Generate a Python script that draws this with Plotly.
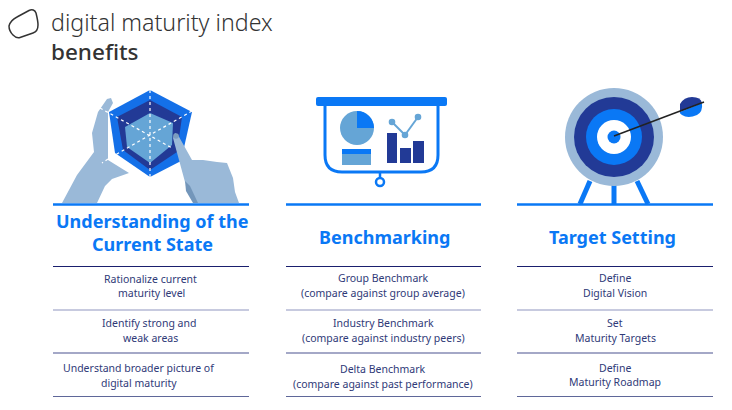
import plotly.graph_objects as go

WIDTH = 732
HEIGHT = 410

BLUE = "#0a78f5"
NAVY = "#223a96"
SKY = "#65a5d6"
PALE = "#9ab9d8"
TEXT = "#2f3a78"
FONT = "Noto Sans"

# headings and list texts, one entry per printed line
col_left = [53, 286, 517]
col_right = [249, 481, 713]

headings = [
    [("Understanding of the", 152, 221), ("Current State", 152, 244)],
    [("Benchmarking", 384, 237)],
    [("Target Setting", 612, 237)],
]

items = [
    [("Rationalize current", 150, 279), ("maturity level", 151, 293),
     ("Identify strong and", 149, 323), ("weak areas", 150, 338),
     ("Understand broader picture of", 139, 368), ("digital maturity", 139, 383)],
    [("Group Benchmark", 383, 278), ("(compare against group average)", 383, 293),
     ("Industry Benchmark", 383, 323), ("(compare against industry peers)", 383, 338),
     ("Delta Benchmark", 383, 369), ("(compare against past performance)", 383, 384)],
    [("Define", 615, 278), ("Digital Vision", 615, 293),
     ("Set", 615, 323), ("Maturity Targets", 615, 338),
     ("Define", 615, 368), ("Maturity Roadmap", 615, 382)],
]

rule_y = [266.5, 310, 353, 396.5]
rule_colors = ["#1a1f6e", "#8f96bf", "#4a5290", "#5f6799"]

# illustration outlines, in page pixels
hand_left = [(62, 203), (77, 175), (94, 152), (92, 133), (98, 112), (107, 99), (111, 98), (113, 103),
             (108, 112), (108, 160), (129, 173), (112, 179), (105, 186), (97, 203)]
hand_right = [(197, 203), (185, 182), (173, 138), (175, 133), (178, 135), (192, 160), (203, 160),
              (217, 162), (227, 163), (233, 178), (235, 192), (239, 203)]
hand_shade = [(185, 181), (190, 186), (198, 203), (193, 203), (186, 191)]
hex_outer = [(150, 90), (192, 112), (181, 161), (150, 177), (115, 153), (109, 112)]
hex_mid = [(150, 100), (182, 117), (177, 152), (150, 170), (123, 150), (117, 117)]
hex_inner = [(150, 113), (173, 123), (172, 145), (150, 163), (127, 147), (125, 127)]
hex_spokes = [((150, 90), (150, 177)), ((100, 108), (172, 148)), ((192, 111), (115, 155)),
              ((108, 159), (102, 163))]

bar_x = [(387, 397), (400, 411), (413, 424)]
bar_top = [133, 148, 141]
bar_bottom = 163
chart_line = [(392, 122), (405, 135), (418, 117)]

target_center = (614, 137)
target_rings = [(49, PALE), (40, NAVY), (28, BLUE), (17, "white"), (6.5, BLUE)]
target_legs = [((590, 181), (580, 204)), ((614, 185), (614, 204)), ((637, 181), (648, 204))]


def poly(points):
    return "M " + " L ".join(f"{x},{y}" for x, y in points) + " Z"


def fill_shape(path, color):
    return dict(type="path", path=path, fillcolor=color, line=dict(width=0))


def line_shape(p0, p1, color, width, dash="solid"):
    return dict(type="line", x0=p0[0], y0=p0[1], x1=p1[0], y1=p1[1],
                line=dict(color=color, width=width, dash=dash))


def rect_shape(x0, y0, x1, y1, color):
    return dict(type="rect", x0=x0, y0=y0, x1=x1, y1=y1, fillcolor=color, line=dict(width=0))


def circle_shape(cx, cy, r, color, line_color=None, line_width=0):
    return dict(type="circle", x0=cx - r, y0=cy - r, x1=cx + r, y1=cy + r, fillcolor=color,
                line=dict(color=line_color, width=line_width))


shapes = []

# logo blob
shapes.append(dict(type="path",
                   path="M 9,26 C 10,22 13,19 17,17 L 29,10.5 C 32,9 35,10 36,13 "
                        "C 37,17 38,21 38,25 C 38,29 36,32 33,33 L 20,37.5 C 17,38.5 15,37 13,35 "
                        "C 11,33 9,30 9,26 Z",
                   fillcolor="white", line=dict(color="#333333", width=1.5)))

# radar hands
shapes.append(fill_shape(poly(hand_left), PALE))
shapes.append(fill_shape(poly(hex_outer), "#1470e8"))
shapes.append(fill_shape(poly(hex_mid), NAVY))
shapes.append(fill_shape(poly(hex_inner), SKY))
for a, b in hex_spokes:
    shapes.append(line_shape(a, b, "white", 1.2, "dot"))
shapes.append(fill_shape(poly(hand_right), PALE))
shapes.append(fill_shape(poly(hand_shade), "#7396ba"))
shapes.append(circle_shape(176, 136, 2.8, "#7c9dbf"))

# presentation board
shapes.append(dict(type="path",
                   path="M 325,105 L 325,155 Q 325,172 342,172 L 421,172 Q 438,172 438,155 L 438,105",
                   fillcolor="white", line=dict(color=BLUE, width=3)))
shapes.append(dict(type="path",
                   path="M 318,97 L 445,97 Q 447,97 447,99 L 447,104 Q 447,106 445,106 "
                        "L 318,106 Q 316,106 316,104 L 316,99 Q 316,97 318,97 Z",
                   fillcolor=BLUE, line=dict(width=0)))
shapes.append(line_shape((380, 172), (380, 178), BLUE, 2.5))
shapes.append(circle_shape(380, 182, 4, "white", BLUE, 2.5))
shapes.append(circle_shape(357, 128, 17, SKY))
shapes.append(fill_shape("M 357,128 L 357,111 C 366.4,111 374,118.6 374,128 Z", BLUE))
shapes.append(rect_shape(342, 149, 371, 154, BLUE))
shapes.append(rect_shape(342, 154, 371, 165, SKY))
for (x0, x1), top in zip(bar_x, bar_top):
    shapes.append(rect_shape(x0, top, x1, bar_bottom, NAVY))
for a, b in zip(chart_line[:-1], chart_line[1:]):
    shapes.append(line_shape(a, b, SKY, 2))
for x, y in chart_line:
    shapes.append(circle_shape(x, y, 3.3, SKY))

# target
for a, b in target_legs:
    shapes.append(line_shape(a, b, BLUE, 5))
for r, color in target_rings:
    shapes.append(circle_shape(target_center[0], target_center[1], r, color))
shapes.append(fill_shape("M 680,104 Q 684,97 692,97 Q 701,97 702,103 L 680,112 Z", NAVY))
shapes.append(fill_shape("M 680,112 L 702,103 Q 703,112 697,115 Q 688,119 682,115 Q 679,113 680,112 Z", BLUE))
shapes.append(line_shape((614, 136), (704, 102), "#222222", 1.5))

# rules
for i in range(3):
    shapes.append(line_shape((col_left[i], 204.5), (col_right[i], 204.5), BLUE, 2.5))
    for y, color in zip(rule_y, rule_colors):
        shapes.append(line_shape((col_left[i], y), (col_right[i], y), color, 1.2))


def label(text, x, y, size, color, anchor="center", weight=None):
    font = dict(family=FONT, size=size, color=color)
    if weight:
        font["weight"] = weight
    return dict(text=text, x=x, y=y, xref="x", yref="y", xanchor=anchor, yanchor="middle",
                showarrow=False, font=font)


annotations = [
    label("digital maturity index", 49, 22, 23.2, "#333333", "left", 300),
    label("benefits", 49, 51, 22.5, "#333333", "left", 500),
]
for col in headings:
    for text, x, y in col:
        annotations.append(label(f"<b>{text}</b>", x, y, 18, BLUE))
for col in items:
    for text, x, y in col:
        annotations.append(label(text, x, y, 10.5, TEXT))

fig = go.Figure()
fig.update_layout(
    width=WIDTH, height=HEIGHT,
    margin=dict(l=0, r=0, t=0, b=0),
    paper_bgcolor="white", plot_bgcolor="white",
    showlegend=False,
    xaxis=dict(range=[0, WIDTH], visible=False, fixedrange=True),
    yaxis=dict(range=[HEIGHT, 0], visible=False, fixedrange=True),
    shapes=shapes,
    annotations=annotations,
)

fig.write_html("out.html", config={"displayModeBar": False},
               post_script="document.body.style.margin='0';")
